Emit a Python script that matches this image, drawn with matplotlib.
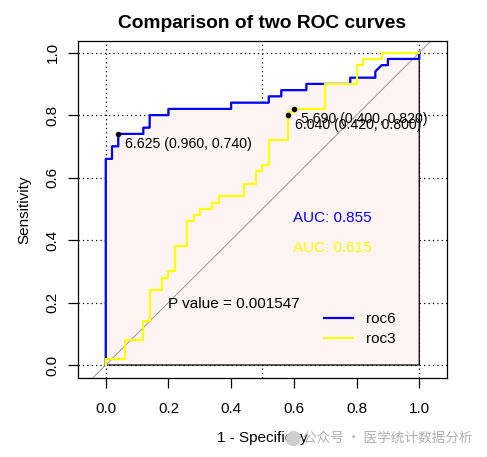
import numpy as np
import matplotlib
matplotlib.use('Agg')
import matplotlib.pyplot as plt
from matplotlib.lines import Line2D

plt.rcParams['font.family'] = ['Liberation Sans', 'DejaVu Sans']

# ROC curve coordinates (1 - specificity, sensitivity)
roc6_fpr = [0.00, 0.00, 0.02, 0.02, 0.04, 0.04, 0.12, 0.12, 0.14, 0.14,
            0.20, 0.20, 0.40, 0.40, 0.52, 0.52, 0.56, 0.56, 0.64, 0.64,
            0.78, 0.78, 0.86, 0.86, 0.88, 0.90, 0.90, 1.00, 1.00]
roc6_tpr = [0.00, 0.66, 0.66, 0.70, 0.70, 0.74, 0.74, 0.76, 0.76, 0.80,
            0.80, 0.82, 0.82, 0.84, 0.84, 0.86, 0.86, 0.88, 0.88, 0.90,
            0.90, 0.92, 0.92, 0.94, 0.96, 0.96, 0.98, 0.98, 1.00]

roc3_fpr = [0.00, 0.00, 0.06, 0.06, 0.12, 0.12, 0.14, 0.14, 0.18, 0.18,
            0.20, 0.20, 0.22, 0.22, 0.26, 0.26, 0.28, 0.28, 0.30, 0.30,
            0.34, 0.34, 0.36, 0.36, 0.44, 0.44, 0.48, 0.48, 0.50, 0.50,
            0.52, 0.52, 0.58, 0.58, 0.60, 0.60, 0.70, 0.70, 0.80, 0.80,
            0.82, 0.82, 0.88, 0.88, 1.00]
roc3_tpr = [0.00, 0.02, 0.02, 0.08, 0.08, 0.14, 0.14, 0.24, 0.24, 0.28,
            0.28, 0.30, 0.30, 0.38, 0.38, 0.46, 0.46, 0.48, 0.48, 0.50,
            0.50, 0.52, 0.52, 0.54, 0.54, 0.58, 0.58, 0.62, 0.62, 0.64,
            0.64, 0.72, 0.72, 0.81, 0.81, 0.82, 0.82, 0.90, 0.90, 0.96,
            0.96, 0.98, 0.98, 1.00, 1.00]

# best thresholds: (threshold, specificity, sensitivity)
roc6_thres = [(6.625, 0.960, 0.740)]
roc3_thres = [(5.690, 0.400, 0.820), (6.040, 0.420, 0.800)]

auc6 = 0.855
auc3 = 0.615
p_value = 0.001547

names = ['roc6', 'roc3']
colours = ['blue', 'yellow']

fig = plt.figure(figsize=(4.87, 4.57), dpi=100)
ax = fig.add_axes([0.1608, 0.1722, 0.7564, 0.7388])
ax.set_xlim(-0.0875, 1.0875)
ax.set_ylim(-0.0426, 1.0384)

# dotted grid, drawn below the polygon
dots = (0, (1, 2.5))
for gx in [0.0, 0.5, 1.0]:
    ax.axvline(gx, color='black', lw=0.9, ls=dots, zorder=0.5)
for gy in np.arange(0, 1.01, 0.2):
    ax.axhline(gy, color='black', lw=0.9, ls=dots, zorder=0.5)

# auc polygon under roc6
poly_x = roc6_fpr + [1.0, 0.0]
poly_y = roc6_tpr + [0.0, 0.0]
ax.fill(poly_x, poly_y, facecolor='#fff4f4', edgecolor='black', lw=0.9, zorder=1)

# identity line
ax.axline((0, 0), (1, 1), color='#a0a0a0', lw=0.8, zorder=2)

ax.plot(roc6_fpr, roc6_tpr, color=colours[0], lw=1.6, label=names[0], zorder=3)
ax.plot(roc3_fpr, roc3_tpr, color=colours[1], lw=1.6, label=names[1], zorder=4)

# threshold points
for thres in roc6_thres + roc3_thres:
    t, spec, sens = thres
    ax.plot(1 - spec, sens, 'o', color='black', ms=3, zorder=5)
    ax.annotate('%.3f (%.3f, %.3f)' % (t, spec, sens), (1 - spec, sens),
                xytext=(5, -7), textcoords='offset points',
                ha='left', va='center', fontsize=10.2, zorder=6)

ax.text(0.598, 0.471, 'AUC: %.3f' % auc6, color=colours[0], fontsize=11,
        ha='left', va='center')
ax.text(0.598, 0.373, 'AUC: %.3f' % auc3, color=colours[1], fontsize=11,
        ha='left', va='center')
ax.text(0.2, 0.194, 'P value = %s' % p_value, fontsize=11,
        ha='left', va='center')

ax.legend(loc='center left', bbox_to_anchor=(0.697, 0.114),
          bbox_transform=ax.transData, frameon=False, fontsize=11,
          borderpad=0, borderaxespad=0, handlelength=1.85,
          handletextpad=0.9, labelspacing=0.4)

ticks = np.round(np.arange(0, 1.01, 0.2), 1)
ax.set_xticks(ticks)
ax.set_yticks(ticks)
ax.set_xticklabels(['%.1f' % v for v in ticks])
ax.set_yticklabels(['%.1f' % v for v in ticks], rotation=90, va='center')
ax.tick_params(direction='out', length=7.2, width=0.9, labelsize=11)
ax.tick_params(axis='x', pad=9.6)
ax.tick_params(axis='y', pad=6.3)
for s in ax.spines.values():
    s.set_linewidth(0.9)

ax.set_title('Comparison of two ROC curves', fontsize=13.8,
             fontweight='bold', pad=8.8)
ax.set_xlabel('1 - Specificity', fontsize=11, labelpad=11)
ax.set_ylabel('Sensitivity', fontsize=11, labelpad=10)

# watermark
fig.add_artist(Line2D([293 / 487], [1 - 438 / 457], marker='o', ms=10,
                      color='#cfcfcf', transform=fig.transFigure))
fig.text(303 / 487, 1 - 438 / 457, '公众号 · 医学统计数据分析',
         family=['Noto Sans CJK SC', 'DejaVu Sans'], fontsize=9.8,
         color='#b0b0b0', ha='left', va='center')

fig.savefig('out.png', dpi=100)
